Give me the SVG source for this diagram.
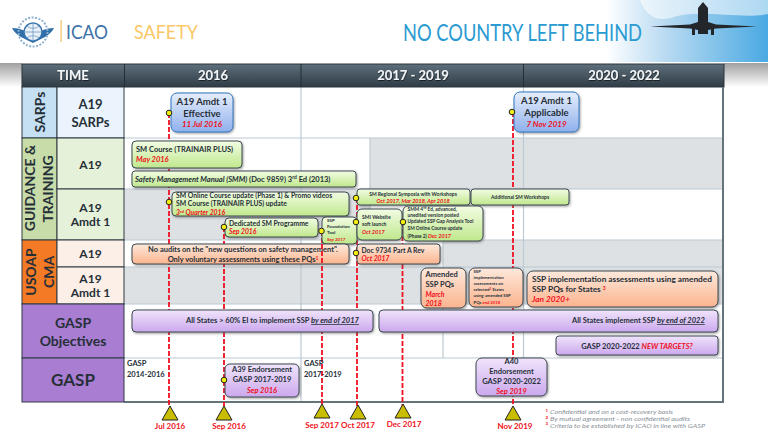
<svg xmlns="http://www.w3.org/2000/svg" width="768" height="433" viewBox="0 0 768 433">
<style>
text{font-family:"Lato","Liberation Sans",sans-serif;fill:#262f38;font-weight:700}
.m{text-anchor:middle}
.r{fill:#f01020;font-style:italic}
.box{stroke:#3d4a52;stroke-width:1;filter:url(#sh)}
.blue{fill:url(#gBlue);stroke:#2f78c0}
.green{fill:url(#gGreen)}
.orange{fill:url(#gOrange)}
.purple{fill:url(#gPurple)}
.dot{fill:#f4ee10;stroke:#222;stroke-width:1}
.dash{stroke:#f01020;stroke-width:1.8;stroke-dasharray:5 2;fill:none}
.tri{fill:#c9bd00;stroke:#222;stroke-width:1}
.grid{stroke:#bccad3;stroke-width:1.2;fill:none}
.cell{stroke:#2e3a42;stroke-width:1}
.date{fill:#f01020;font-size:8px;text-anchor:middle}
.h{fill:#f2f5f7;font-size:13px;text-anchor:middle}
.note{fill:#8a9199;font-size:6px;font-style:italic;font-weight:400}
.nr{fill:#f01020;font-size:4.500px;font-weight:700}
</style>
<defs>
<linearGradient id="gBlue" x1="0" y1="0" x2="0" y2="1"><stop offset="0" stop-color="#e6eefb"/><stop offset="1" stop-color="#8fb0ec"/></linearGradient>
<linearGradient id="gGreen" x1="0" y1="0" x2="0" y2="1"><stop offset="0" stop-color="#f3fce4"/><stop offset="1" stop-color="#bfe88c"/></linearGradient>
<linearGradient id="gOrange" x1="0" y1="0" x2="0" y2="1"><stop offset="0" stop-color="#fde9dc"/><stop offset="1" stop-color="#fbb48e"/></linearGradient>
<linearGradient id="gPurple" x1="0" y1="0" x2="0" y2="1"><stop offset="0" stop-color="#f0e4fb"/><stop offset="1" stop-color="#cba8ee"/></linearGradient>
<linearGradient id="gHead" x1="0" y1="0" x2="0" y2="1"><stop offset="0" stop-color="#5e6f7b"/><stop offset="1" stop-color="#2f3c46"/></linearGradient>
<linearGradient id="gBand" x1="0" y1="0" x2="0" y2="1"><stop offset="0" stop-color="#a0a0a0"/><stop offset="1" stop-color="#ffffff"/></linearGradient>
<linearGradient id="gSky" x1="0" y1="0" x2="1" y2="0"><stop offset="0" stop-color="#ffffff"/><stop offset="0.35" stop-color="#bcdcf2"/><stop offset="1" stop-color="#4aa9e2"/></linearGradient>
<filter id="sh" x="-10%" y="-15%" width="125%" height="140%"><feDropShadow dx="1" dy="1.2" stdDeviation="0.9" flood-color="#555" flood-opacity="0.55"/></filter>
<filter id="ts" x="-10%" y="-20%" width="120%" height="140%"><feDropShadow dx="0.6" dy="0.8" stdDeviation="0.4" flood-color="#000" flood-opacity="0.7"/></filter>
</defs>

<rect width="768" height="433" fill="#fff"/>

<g id="banner">
<rect x="0" y="63" width="22" height="24" fill="url(#gBand)"/>
<rect x="724" y="63" width="44" height="24" fill="url(#gBand)"/>
<rect x="606" y="0" width="162" height="62" fill="url(#gSky)"/>
<path d="M640 0H768V14C740 20 700 8 670 18 655 22 645 14 640 0Z" fill="#ffffff" opacity="0.55"/>
<path d="M650 26.500L690 24.500 698 22V8L703 2 708 8V22L716 24.500 757 26.500 716 28.500 708 30V34H698V30L690 28.500Z" fill="#23262b"/>
<rect x="692" y="29" width="3" height="6" fill="#23262b"/><rect x="711" y="29" width="3" height="6" fill="#23262b"/>
<g id="emblem">
<path d="M12 28C20 28 26 31 33 35 40 31 46 28 54 28 50 36 42 38 33 43 24 38 16 36 12 28Z" fill="#2f6ea8"/>
<circle cx="33" cy="32" r="9" fill="#e9f0f7" stroke="#3a76ae" stroke-width="1.500"/>
<path d="M33 23V41M24 32H42M27 26C30 29 36 29 39 26M27 38C30 35 36 35 39 38" stroke="#6e9cc4" stroke-width="0.800" fill="none"/>
<circle cx="33" cy="32" r="14.500" fill="none" stroke="#8fb1d0" stroke-width="2" stroke-dasharray="2 1.500"/>
</g>
<rect x="60.500" y="20" width="1.200" height="22" fill="#f0c060"/>
<text x="66" y="39" font-size="20" textLength="42" lengthAdjust="spacingAndGlyphs" style="fill:#3d72a8;font-weight:400">ICAO</text>
<text x="134" y="39" font-size="20" textLength="64" lengthAdjust="spacingAndGlyphs" style="fill:#fbc768;font-weight:400">SAFETY</text>
<text x="403" y="41" font-size="23" textLength="239" lengthAdjust="spacingAndGlyphs" style="fill:#2a9ad2;font-weight:400">NO COUNTRY LEFT BEHIND</text>
</g>

<g id="grid">
<rect x="124" y="87" width="599" height="315" fill="#fff"/>
<rect x="370" y="138" width="353" height="51" fill="#dde1e4"/>
<rect x="124" y="189" width="246" height="51" fill="#dde1e4"/>
<rect x="443" y="240" width="280" height="27" fill="#dde1e4"/>
<rect x="124" y="267" width="599" height="37" fill="#dde1e4"/>
<path class="grid" d="M124 138H723M124 189H723M124 240H723M124 267H723M124 304H723M124 358H723"/>
<path class="grid" d="M301 87V402M523.500 87V358M370 138V240M443 240V358"/>
<rect x="22" y="64" width="702" height="23" fill="url(#gHead)" stroke="#2a353d"/>
<path d="M124.500 64V87M301 64V87M523.500 64V87" stroke="#232e36" stroke-width="1"/>
<text class="h" x="73" y="80" filter="url(#ts)">TIME</text>
<text class="h" x="213" y="80" filter="url(#ts)">2016</text>
<text class="h" x="413" y="80" filter="url(#ts)">2017 - 2019</text>
<text class="h" x="624" y="80" filter="url(#ts)">2020 - 2022</text>
<path d="M124 402H723V87" fill="none" stroke="#66737b" stroke-width="2"/>
</g>

<g id="row-labels">
<rect class="cell" x="22" y="87" width="35" height="51" fill="#c5dff3"/>
<rect class="cell" x="22" y="138" width="35" height="102" fill="#c7dca8"/>
<rect class="cell" x="22" y="240" width="35" height="64" fill="#f47a26"/>
<rect class="cell" x="57" y="87" width="67" height="51" fill="#ebf4fc"/>
<rect class="cell" x="57" y="138" width="67" height="51" fill="#e6f1da"/>
<rect class="cell" x="57" y="189" width="67" height="51" fill="#e6f1da"/>
<rect class="cell" x="57" y="240" width="67" height="27" fill="#fcefe7"/>
<rect class="cell" x="57" y="267" width="67" height="37" fill="#fcefe7"/>
<rect class="cell" x="22" y="304" width="102" height="54" fill="#a97dd2"/>
<rect class="cell" x="22" y="358" width="102" height="44" fill="#a97dd2"/>
<text class="m" font-size="14" transform="translate(45 112) rotate(-90)">SARPs</text>
<text class="m" font-size="14" transform="translate(35 188) rotate(-90)">GUIDANCE &amp;</text>
<text class="m" font-size="14" transform="translate(53 189) rotate(-90)">TRAINING</text>
<text class="m" font-size="14" transform="translate(36 272) rotate(-90)">USOAP</text>
<text class="m" font-size="14" transform="translate(54 272) rotate(-90)">CMA</text>
<text class="m" font-size="13" x="90.500" y="109">A19</text>
<text class="m" font-size="13" x="90.500" y="127">SARPs</text>
<text class="m" font-size="12" x="90.500" y="169">A19</text>
<text class="m" font-size="12" x="90.500" y="212">A19</text>
<text class="m" font-size="12" x="90.500" y="226">Amdt 1</text>
<text class="m" font-size="12" x="90.500" y="258">A19</text>
<text class="m" font-size="12" x="90.500" y="283">A19</text>
<text class="m" font-size="12" x="90.500" y="297">Amdt 1</text>
<text class="m" font-size="14" x="73" y="328">GASP</text>
<text class="m" font-size="14" x="73" y="346">Objectives</text>
<text class="m" font-size="17" x="73" y="386">GASP</text>
</g>

<g id="connectors">
<path class="dash" d="M169 113V406M224 227V406M322 231V406M357 198V406M402.500 222V406M513 112V406"/>
</g>

<text x="127" y="366" font-size="7.500">GASP</text>
<text x="127" y="377" font-size="7.500">2014-2016</text>
<text x="304" y="366" font-size="7.500">GASP</text>
<text x="304" y="377" font-size="7.500">2017-2019</text>

<g id="n-a19-effective">
<rect class="box blue" x="171" y="93" width="62" height="39" rx="6"/>
<text class="m" x="202" y="105" font-size="9.500">A19 Amdt 1</text>
<text class="m" x="202" y="117" font-size="9.500">Effective</text>
<text class="m r" x="202" y="127" font-size="8">11 Jul 2016</text>
<circle class="dot" cx="169" cy="113" r="2.800"/>
</g>
<g id="n-a19-applicable">
<rect class="box blue" x="514" y="92" width="65" height="40" rx="6"/>
<text class="m" x="546.500" y="104" font-size="9.500">A19 Amdt 1</text>
<text class="m" x="546.500" y="116" font-size="9.500">Applicable</text>
<text class="m r" x="546.500" y="127" font-size="8">7 Nov 2019</text>
<circle class="dot" cx="512" cy="112" r="2.800"/>
</g>
<g id="n-sm-course">
<rect class="box green" x="132" y="141" width="110" height="27" rx="4"/>
<text x="136" y="152" font-size="7.500">SM Course (TRAINAIR PLUS)</text>
<text class="r" x="136" y="162" font-size="7.500">May 2016</text>
</g>
<g id="n-smm">
<rect class="box green" x="132" y="171" width="224" height="16" rx="3"/>
<text x="135" y="181.500" font-size="7.500"><tspan font-style="italic">Safety Management Manual (SMM)</tspan> (Doc 9859) 3<tspan font-size="5" dy="-2.500">rd</tspan><tspan dy="2.500"> Ed (2013)</tspan></text>
</g>
<g id="n-sm-online">
<rect class="box green" x="172" y="192" width="177" height="24" rx="4"/>
<text x="176" y="197.500" font-size="6.800">SM Online Course update (Phase 1) &amp; Promo videos</text>
<text x="176" y="206" font-size="6.800">SM Course (TRAINAIR PLUS) update</text>
<text class="r" x="176" y="214.500" font-size="6.800">3<tspan font-size="4.500" dy="-2">rd</tspan><tspan dy="2"> Quarter 2016</tspan></text>
<circle class="dot" cx="169" cy="202" r="2.800"/>
</g>
<g id="n-dedicated">
<rect class="box green" x="225" y="218" width="93" height="19" rx="4"/>
<text x="229" y="225.500" font-size="6.800">Dedicated SM Programme</text>
<text class="r" x="229" y="234" font-size="6.800">Sep 2016</text>
<circle class="dot" cx="224" cy="227" r="2.800"/>
</g>
<g id="n-foundation">
<rect class="box green" x="322" y="217" width="35" height="27" rx="4"/>
<text x="327" y="222" font-size="4.500">SSP</text>
<text x="327" y="228" font-size="4.500">Foundation</text>
<text x="327" y="234" font-size="4.500">Tool</text>
<text class="r" x="327" y="241" font-size="4.500">Sep 2017</text>
<circle class="dot" cx="321.500" cy="231" r="2.800"/>
</g>
<g id="n-regional">
<rect class="box green" x="357" y="189" width="113" height="16" rx="3"/>
<text class="m" x="413" y="196" font-size="5">SM Regional Symposia with Workshops</text>
<text class="m r" x="413" y="202.500" font-size="5.500">Oct 2017, Mar 2018, Apr 2018</text>
<circle class="dot" cx="356" cy="198" r="2.800"/>
</g>
<g id="n-additional">
<rect class="box green" x="471" y="189" width="98" height="16" rx="3"/>
<text class="m" x="520" y="198.500" font-size="5">Additional SM Workshops</text>
</g>
<g id="n-website">
<rect class="box green" x="357" y="209" width="45" height="31" rx="5"/>
<text x="362" y="219" font-size="5">SMI Website</text>
<text x="362" y="225.500" font-size="5">soft launch</text>
<text class="r" x="362" y="233.500" font-size="5.500">Oct 2017</text>
<circle class="dot" cx="356" cy="222" r="2.800"/>
</g>
<g id="n-smm4">
<rect class="box green" x="403" y="206" width="80" height="35" rx="5"/>
<text x="407.500" y="210.500" font-size="4.800">SMM 4<tspan font-size="3.500" dy="-1.500">th</tspan><tspan dy="1.500"> Ed, advanced,</tspan></text>
<text x="407.500" y="217" font-size="4.800">unedited version posted</text>
<text x="407.500" y="223" font-size="4.800">Updated SSP Gap Analysis Tool</text>
<text x="407.500" y="229.500" font-size="4.800">SM Online Course update</text>
<text x="407.500" y="237.500" font-size="4.800">(Phase 2) <tspan class="r" font-size="5.500">Dec 2017</tspan></text>
<circle class="dot" cx="403" cy="222" r="2.800"/>
</g>
<g id="n-no-audits">
<rect class="box orange" x="132" y="244" width="217" height="20" rx="4"/>
<text class="m" x="243" y="252" font-size="7.500">No audits on the "new questions on safety management".</text>
<text class="m" x="243" y="262" font-size="7.500">Only voluntary assessments using these PQs<tspan font-size="5" dy="-2.500" fill="#f01020">1</tspan></text>
</g>
<path class="dash" d="M322 244V264"/>
<g id="n-doc9734">
<rect class="box orange" x="357" y="244" width="83" height="20" rx="3"/>
<text x="361.500" y="252.500" font-size="6.800">Doc 9734 Part A Rev</text>
<text class="r" x="361.500" y="260.500" font-size="6.800">Oct 2017</text>
<circle class="dot" cx="356" cy="253" r="2.800"/>
</g>
<g id="n-amended">
<rect class="box orange" x="421" y="268" width="45" height="40" rx="6"/>
<text x="425.500" y="276.500" font-size="7.500">Amended</text>
<text x="425.500" y="286.500" font-size="7.500">SSP PQs</text>
<text class="r" x="425.500" y="296.500" font-size="7">March</text>
<text class="r" x="425.500" y="305.500" font-size="7">2018</text>
</g>
<g id="n-ssp-impl-sel">
<rect class="box orange" x="469" y="268" width="54" height="39" rx="6"/>
<text x="473.500" y="273" font-size="4.300">SSP</text>
<text x="473.500" y="279" font-size="4.300">implementation</text>
<text x="473.500" y="285" font-size="4.300">assessments on</text>
<text x="473.500" y="291" font-size="4.300">selected<tspan font-size="3" dy="-1.500" fill="#f01020">2</tspan><tspan dy="1.500"> States</tspan></text>
<text x="473.500" y="297" font-size="4.300">using amended SSP</text>
<text x="473.500" y="304" font-size="4.300">PQs <tspan class="r">end 2018</tspan></text>
</g>
<g id="n-ssp-impl">
<rect class="box orange" x="527" y="271" width="191" height="36" rx="6"/>
<text x="532" y="282" font-size="8.300">SSP implementation assessments using amended</text>
<text x="532" y="292" font-size="8.300">SSP PQs for States <tspan font-size="5" dy="-2.500" fill="#f01020">3</tspan></text>
<text class="r" x="532" y="302" font-size="8.300">Jan 2020+</text>
</g>
<g id="n-all-2017">
<rect class="box purple" x="132" y="310" width="241" height="22" rx="4"/>
<text x="186" y="323" font-size="7.500">All States &gt; 60% EI to implement SSP <tspan font-style="italic" text-decoration="underline">by end of 2017</tspan></text>
</g>
<g id="n-all-2022">
<rect class="box purple" x="379" y="310" width="339" height="22" rx="4"/>
<text x="572" y="323" font-size="7.500">All States implement SSP <tspan font-style="italic" text-decoration="underline">by end of 2022</tspan></text>
</g>
<g id="n-gasp-targets">
<rect class="box purple" x="556" y="336" width="162" height="19" rx="3"/>
<text class="m" x="637" y="348.500" font-size="7.500">GASP 2020-2022 <tspan class="r">NEW TARGETS?</tspan></text>
</g>
<g id="n-a39">
<rect class="box purple" x="225" y="364" width="74" height="33" rx="5"/>
<text class="m" x="262" y="372" font-size="7.500">A39 Endorsement</text>
<text class="m" x="262" y="382" font-size="7.500">GASP 2017-2019</text>
<text class="m r" x="262" y="392.500" font-size="7.500">Sep 2016</text>
<circle class="dot" cx="224" cy="380" r="2.800"/>
</g>
<g id="n-a40">
<rect class="box purple" x="476" y="358" width="71" height="38" rx="6"/>
<text class="m" x="511.500" y="364" font-size="7.500">A40</text>
<text class="m" x="511.500" y="374" font-size="7.500">Endorsement</text>
<text class="m" x="511.500" y="384" font-size="7.500">GASP 2020-2022</text>
<text class="m r" x="511.500" y="394" font-size="7.500">Sep 2019</text>
</g>

<g id="milestones">
<path class="tri" d="M170 406L178 420H162Z"/>
<path class="tri" d="M224 406L232 420H216Z"/>
<path class="tri" d="M322 404L330 418H314Z"/>
<path class="tri" d="M358 405L366 419H350Z"/>
<path class="tri" d="M403 404L411 418H395Z"/>
<path class="tri" d="M513 406L521 420H505Z"/>
<text class="date" x="170" y="429">Jul 2016</text>
<text class="date" x="229" y="429">Sep 2016</text>
<text class="date" x="322" y="428">Sep 2017</text>
<text class="date" x="358" y="428">Oct 2017</text>
<text class="date" x="404" y="427">Dec 2017</text>
<text class="date" x="515" y="429">Nov 2019</text>
</g>

<g id="footnotes">
<text class="nr" x="545.500" y="411.500">1</text>
<text class="nr" x="545.500" y="418.500">2</text>
<text class="nr" x="545.500" y="425">3</text>
<text class="note" x="550" y="413.500" textLength="123" lengthAdjust="spacingAndGlyphs">Confidential and on a cost-recovery basis</text>
<text class="note" x="550" y="420.700" textLength="140" lengthAdjust="spacingAndGlyphs">By mutual agreement - non confidential audits</text>
<text class="note" x="550" y="428" textLength="155" lengthAdjust="spacingAndGlyphs">Criteria to be established by ICAO in line with GASP</text>
</g>
</svg>
